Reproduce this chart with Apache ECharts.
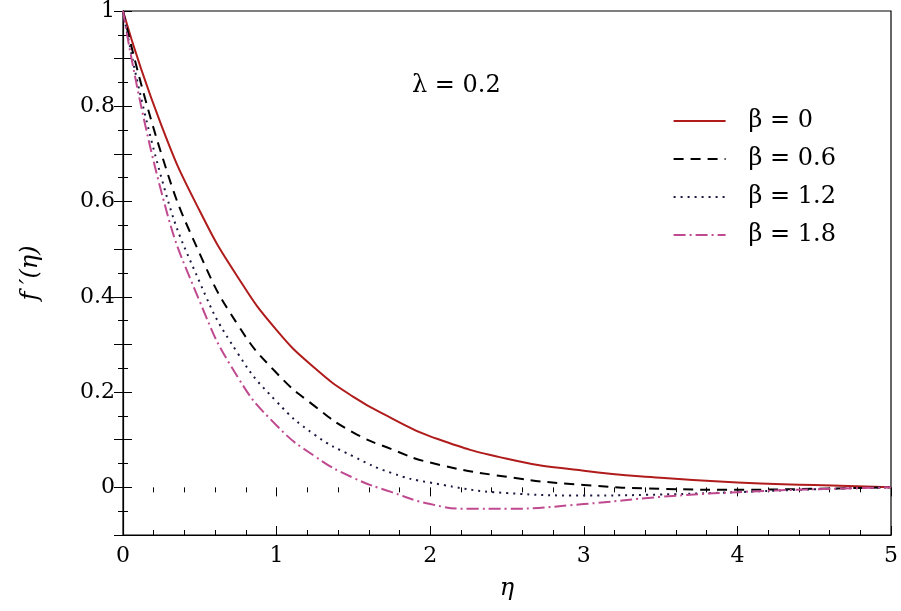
<!DOCTYPE html>
<html><head><meta charset="utf-8">
<script src="https://cdn.jsdelivr.net/npm/echarts@6/dist/echarts.min.js"></script>
<style>html,body{margin:0;padding:0;background:#fff}#c{width:901px;height:611px}</style>
</head><body><div id="c"></div>
<script>
const etaA = [0,0.25,0.5,0.75,1,1.25,1.5,1.75,2,2.5,3,3.5,4,4.5,5];
const beta0 = [1,0.76,0.58,0.44,0.33,0.25,0.19,0.145,0.107,0.06,0.035,0.02,0.01,0.005,0];
const beta06 = [1,0.70,0.49,0.34,0.24,0.17,0.115,0.08,0.052,0.022,0.005,-0.003,-0.005,-0.003,0];
const beta12 = [1,0.65,0.43,0.28,0.18,0.11,0.065,0.03,0.01,-0.012,-0.017,-0.015,-0.01,-0.004,0];
const etaB = [0,0.25,0.5,0.75,1,1.25,1.5,1.75,2,2.25,2.5,3,3.5,4,4.5,5];
const beta18 = [1,0.62,0.39,0.23,0.13,0.065,0.02,-0.01,-0.035,-0.045,-0.045,-0.035,-0.02,-0.01,-0.004,0];
const names = ['β = 0','β = 0.6','β = 1.2','β = 1.8'];
const F = 'DejaVu Serif';
const pair = (x,y)=>x.map((v,i)=>[v,y[i]]);
const tick = {show:true,inside:true,length:9,lineStyle:{color:'#000'}};
const chart = echarts.init(document.getElementById('c'));
chart.setOption({
  animation:false,
  grid:{left:123,right:10,top:10,bottom:76,show:true,borderColor:'#000',borderWidth:1.2},
  xAxis:[{type:'value',min:0,max:5,interval:1,name:'η',nameLocation:'middle',nameGap:42,
    nameTextStyle:{fontFamily:F,fontStyle:'italic',fontSize:24,color:'#000'},
    axisLine:{show:true,onZero:false,lineStyle:{color:'#000',width:1.2}},
    axisTick:tick,minorTick:{show:true,splitNumber:5,length:5,lineStyle:{color:'#000'}},splitLine:{show:false},
    axisLabel:{color:'#000',fontFamily:F,fontSize:22,margin:10}},
    {type:'value',min:0,max:5,interval:1,position:'top',axisLine:{show:false},axisLabel:{show:false},
     axisTick:tick,minorTick:{show:true,splitNumber:5,length:5,lineStyle:{color:'#000'}},splitLine:{show:false}}],
  yAxis:[{type:'value',min:-0.1,max:1,interval:0.1,
    axisLine:{show:true,onZero:false,lineStyle:{color:'#000',width:1.2}},
    axisTick:tick,minorTick:{show:true,splitNumber:2,length:5,lineStyle:{color:'#000'}},splitLine:{show:false},
    axisLabel:{color:'#000',fontFamily:F,fontSize:22,formatter:v=>{const k=Math.round(v*10);return (k>=0&&k%2===0)?String(k/10):'';}},
    name:"f ′(η)",nameLocation:'middle',nameGap:80,nameTextStyle:{fontFamily:F,fontStyle:'italic',fontSize:24,color:'#000'}},
    {type:'value',min:-0.1,max:1,interval:0.1,position:'right',axisLine:{show:false},axisLabel:{show:false},
     axisTick:tick,minorTick:{show:true,splitNumber:2,length:5,lineStyle:{color:'#000'}},splitLine:{show:false}}],
  legend:{right:60,top:104,orient:'vertical',itemWidth:52,itemHeight:14,itemGap:14,itemStyle:{opacity:0},
    textStyle:{fontFamily:F,fontSize:24,color:'#000',padding:[0,0,0,18]},data:names},
  graphic:[{type:'text',left:412,top:74,style:{text:'λ = 0.2',fontFamily:F,fontSize:24,fill:'#000'}}],
  series:[
    {name:names[0],type:'line',smooth:0.5,showSymbol:false,symbol:'none',data:pair(etaA,beta0),itemStyle:{color:'#b01c1c'},lineStyle:{color:'#b01c1c',width:2}},
    {name:names[1],type:'line',smooth:0.5,showSymbol:false,symbol:'none',data:pair(etaA,beta06),itemStyle:{color:'#000'},lineStyle:{color:'#000',width:2,type:[10,7]}},
    {name:names[2],type:'line',smooth:0.5,showSymbol:false,symbol:'none',data:pair(etaA,beta12),itemStyle:{color:'#1a1a40'},lineStyle:{color:'#1a1a40',width:2,type:[2,5]}},
    {name:names[3],type:'line',smooth:0.5,showSymbol:false,symbol:'none',data:pair(etaB,beta18),itemStyle:{color:'#c04a90'},lineStyle:{color:'#c04a90',width:2,type:[12,4,2,4]}}
  ]
});
</script></body></html>
